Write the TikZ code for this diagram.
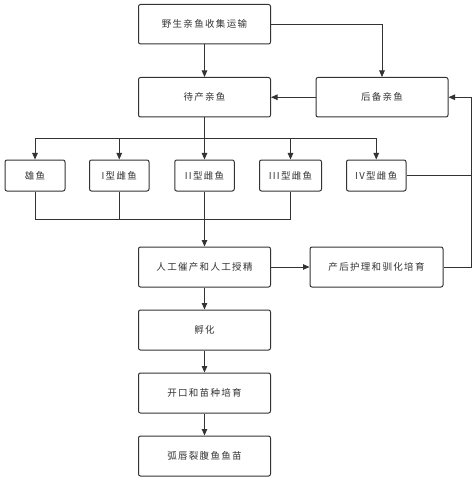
\documentclass[tikz,border=0pt]{standalone}
\usepackage{fontspec}
\setmainfont{Noto Sans CJK SC}[LetterSpace=14]
\usetikzlibrary{arrows.meta}
\definecolor{ln}{HTML}{333333}
\tikzset{
  box/.style={draw=ln, line width=1pt, rounded corners=2pt, align=center,
    font=\fontsize{9.5}{11}\selectfont, text=ln, inner sep=0pt},
  bigbox/.style={box, minimum width=132pt, minimum height=39.5pt},
  smallbox/.style={box, minimum width=59.5pt, minimum height=31pt},
  conn/.style={draw=ln, line width=0.9pt, line join=miter},
  arr/.style={conn, -{Triangle[length=6.5pt,width=5.5pt]}}
}
\begin{document}
\begin{tikzpicture}[x=1pt,y=-1pt]
\useasboundingbox (0,0) rectangle (474,481);
\node[bigbox] (top) at (204.5,24.25) {野生亲鱼收集运输};
\node[bigbox] (dai) at (204.5,97.25) {待产亲鱼};
\node[bigbox] (hou) at (382,97.25) {后备亲鱼};
\node[smallbox, minimum width=60pt] (xiong) at (35,175.5) {雄鱼};
\node[smallbox] (t1) at (119.25,175.5) {I型雌鱼};
\node[smallbox] (t2) at (204.5,175.5) {II型雌鱼};
\node[smallbox, minimum width=62pt] (t3) at (290.5,175.5) {III型雌鱼};
\node[smallbox] (t4) at (376.25,175.5) {IV型雌鱼};
\node[bigbox, minimum height=40pt] (ren) at (204.5,267) {人工催产和人工授精};
\node[bigbox, minimum width=133pt, minimum height=40pt] (chan) at (376.5,267) {产后护理和驯化培育};
\node[bigbox, minimum height=40pt] (fu) at (204.5,330) {孵化};
\node[bigbox, minimum height=40pt] (kai) at (204.5,393) {开口和苗种培育};
\node[bigbox, minimum height=40pt] (hu) at (204.5,456) {弧唇裂腹鱼鱼苗};
\coordinate (branch) at (204.5,138.5);
\coordinate (merge) at (204.5,219);
\coordinate (rx) at (471,175.5);
% top connections
\draw[arr] (top) -- (dai);
\draw[arr] (top.east) -| (hou.north);
\draw[arr] (hou) -- (dai);
% branch
\draw[conn] (dai.south) -- (branch);
\draw[conn] (xiong.north |- branch) -- (t4.north |- branch);
\foreach \n in {xiong,t1,t2,t3,t4} \draw[arr] (\n.north |- branch) -- (\n.north);
% merge
\draw[conn] (xiong.south) -- (xiong.south |- merge) -- (t3.south |- merge) -- (t3.south);
\draw[conn] (t1.south) -- (t1.south |- merge);
\draw[arr] (t2.south) -- (ren.north);
% right loop
\draw[conn] (t4.east) -- (rx);
\draw[arr] (chan.east) -- (chan.east -| rx) -- (hou.east -| rx) -- (hou.east);
\draw[arr] (ren) -- (chan);
\draw[arr] (ren) -- (fu);
\draw[arr] (fu) -- (kai);
\draw[arr] (kai) -- (hu);
\end{tikzpicture}
\end{document}
